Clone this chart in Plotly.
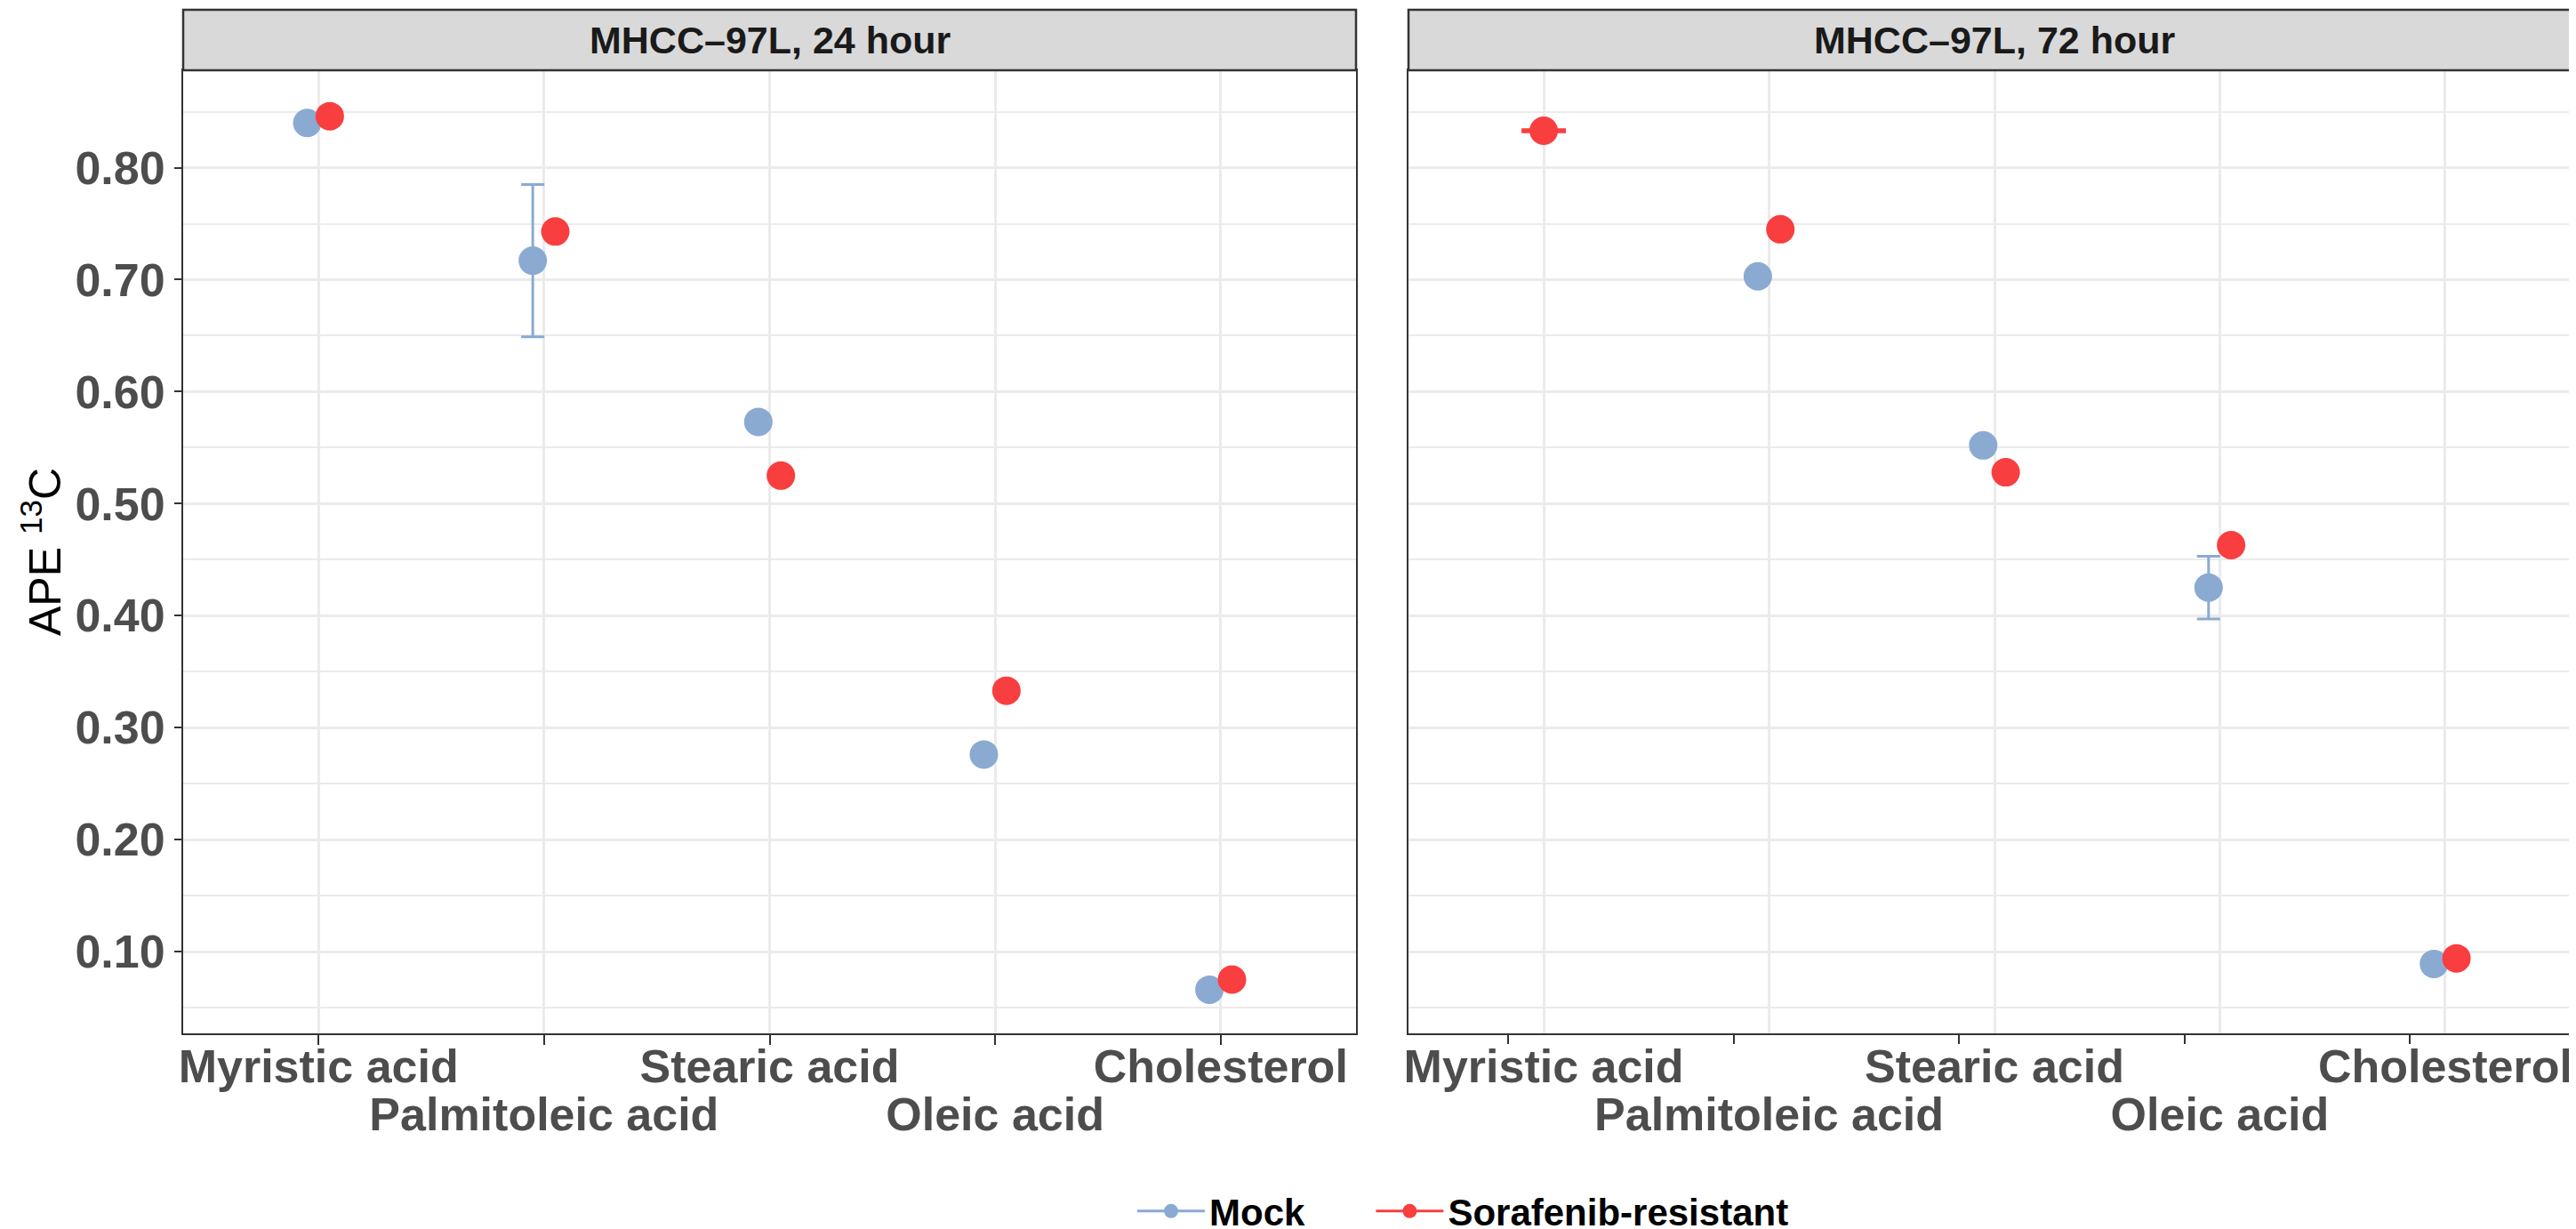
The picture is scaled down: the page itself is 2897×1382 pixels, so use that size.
import plotly.graph_objects as go

# values
categories = ["Myristic acid", "Palmitoleic acid", "Stearic acid", "Oleic acid", "Cholesterol"]
panels = ["MHCC–97L, 24 hour", "MHCC–97L, 72 hour"]
groups = ["Mock", "Sorafenib-resistant"]

mock_24h = [0.840, 0.717, 0.573, 0.276, 0.066]
mock_24h_err = [0.0, 0.068, 0.0, 0.0, 0.0]
sora_24h = [0.846, 0.743, 0.525, 0.333, 0.075]
sora_24h_err = [0.0, 0.0, 0.0, 0.0, 0.0]

mock_72h = [None, 0.703, 0.552, 0.425, 0.089]
mock_72h_err = [None, 0.0, 0.0, 0.028, 0.0]
sora_72h = [0.833, 0.745, 0.528, 0.463, 0.094]
sora_72h_err = [0.001, 0.0, 0.0, 0.0, 0.0]

y_ticks = [0.10, 0.20, 0.30, 0.40, 0.50, 0.60, 0.70, 0.80]
y_minor = [0.05, 0.15, 0.25, 0.35, 0.45, 0.55, 0.65, 0.75, 0.85]

COLORS = {"Mock": "#8AAAD2", "Sorafenib-resistant": "#F93E3F"}
FONT = "Liberation Sans, Arial, Helvetica, sans-serif"
DODGE = 0.05
TICK_SHIFT = 0.157  # ticks of the right panel sit left of the grid in the original

W, H = 2897, 1382
ML, MR, MT, MB = 198, 3, 71, 228
plot_w = W - ML - MR
plot_h = H - MT - MB

fig = go.Figure()

data = {
    (0, "Mock"): (mock_24h, mock_24h_err),
    (0, "Sorafenib-resistant"): (sora_24h, sora_24h_err),
    (1, "Mock"): (mock_72h, mock_72h_err),
    (1, "Sorafenib-resistant"): (sora_72h, sora_72h_err),
}

for p in range(2):
    xa = "x" if p == 0 else "x2"
    ya = "y" if p == 0 else "y2"
    for gi, g in enumerate(groups):
        vals, errs = data[(p, g)]
        other = data[(p, groups[1 - gi])][0]
        for i, v in enumerate(vals):
            if v is None:
                continue
            alone = other[i] is None
            off = 0.0 if alone else (-DODGE if g == "Mock" else DODGE)
            fig.add_trace(go.Scatter(
                x=[i + 1 + off], y=[v], xaxis=xa, yaxis=ya,
                mode="markers",
                marker=dict(color=COLORS[g], size=32, line=dict(width=0)),
                error_y=dict(type="data", array=[errs[i]], color=COLORS[g],
                             thickness=3, width=25 if alone else 13),
                showlegend=False, hoverinfo="y",
            ))

# invisible traces so the overlay axes (second label row, shifted ticks) get drawn
for xa, ya in [("x3", "y"), ("x4", "y2"), ("x5", "y2")]:
    fig.add_trace(go.Scatter(x=[1], y=[0.5], xaxis=xa, yaxis=ya, mode="markers",
                             marker=dict(opacity=0), showlegend=False, hoverinfo="skip"))

# legend entries (trailing no-break spaces widen the gap between the two items)
for k, g in enumerate(groups):
    fig.add_trace(go.Scatter(
        x=[None], y=[None], mode="lines+markers",
        name=g + ("\u00a0" * 6 if k == 0 else ""),
        marker=dict(color=COLORS[g], size=32),
        line=dict(color=COLORS[g], width=3),
    ))

tick_font = dict(family=FONT, size=52, color="#4D4D4D", weight="bold")
cat_vals = list(range(1, len(categories) + 1))
row1_vals = [k + 1 for k in range(len(categories)) if k % 2 == 0]
row1_text = [categories[k] for k in range(len(categories)) if k % 2 == 0]
row2_vals = [k + 1 for k in range(len(categories)) if k % 2 == 1]
row2_text = [categories[k] for k in range(len(categories)) if k % 2 == 1]
xrange = [0.4, len(categories) + 0.6]

d1 = [0, (1517 - ML) / plot_w]
d2 = [(1576 - ML) / plot_w, 1]

common_x = dict(range=xrange, showline=True, mirror=True, linecolor="#333333",
                linewidth=2, zeroline=False, fixedrange=True,
                tickvals=row1_vals, ticktext=row1_text, tickfont=tick_font,
                ticks="outside", ticklen=11, tickwidth=2, ticklabelstandoff=-20,
                showgrid=True, gridcolor="#EBEBEB", gridwidth=3)
overlay_x = dict(range=xrange, showgrid=False, zeroline=False, showline=False,
                 fixedrange=True)
row2_x = dict(tickvals=row2_vals, ticktext=row2_text, tickfont=tick_font,
              ticks="outside", ticklen=11, tickcolor="rgba(0,0,0,0)",
              ticklabelstandoff=35)

fig.update_layout(
    width=W, height=H,
    margin=dict(l=ML, r=MR, t=MT, b=MB, autoexpand=False),
    paper_bgcolor="white", plot_bgcolor="white",
    font=dict(family=FONT),
    showlegend=True,
    legend=dict(orientation="h", x=(1266 - ML) / plot_w, xanchor="left",
                y=-(1354 - (H - MB)) / plot_h, yanchor="middle",
                font=dict(family=FONT, size=42, color="black", weight="bold"),
                itemwidth=76, bgcolor="rgba(0,0,0,0)"),
    xaxis=dict(**common_x, domain=d1, anchor="y", tickcolor="#333333",
               minor=dict(tickvals=row2_vals, ticks="outside", ticklen=11,
                          tickwidth=2, tickcolor="#333333",
                          showgrid=True, gridcolor="#EBEBEB", gridwidth=3)),
    xaxis3=dict(**overlay_x, **row2_x, overlaying="x", anchor="y"),
    xaxis2=dict(**common_x, domain=d2, anchor="y2", tickcolor="rgba(0,0,0,0)",
                minor=dict(tickvals=row2_vals, ticks="",
                           showgrid=True, gridcolor="#EBEBEB", gridwidth=3)),
    xaxis4=dict(**overlay_x, **row2_x, overlaying="x2", anchor="y2"),
    xaxis5=dict(**overlay_x, overlaying="x2", anchor="y2", showticklabels=False,
                tickvals=[c - TICK_SHIFT for c in cat_vals],
                ticks="outside", ticklen=11, tickwidth=2, tickcolor="#333333"),
    yaxis=dict(range=[0.027, 0.887], domain=[0, 1], anchor="x",
               tickvals=y_ticks, tickformat=".2f", tickfont=tick_font,
               ticks="outside", ticklen=8, tickwidth=2, tickcolor="#333333",
               showgrid=True, gridcolor="#EBEBEB", gridwidth=3,
               minor=dict(tickvals=y_minor, showgrid=True, gridcolor="#EBEBEB",
                          gridwidth=1.5, ticks=""),
               showline=True, mirror=True, linecolor="#333333", linewidth=2,
               zeroline=False, fixedrange=True,
               title=dict(text="APE <sup>13</sup>C", standoff=0,
                          font=dict(family=FONT, size=50, color="black"))),
    yaxis2=dict(range=[0.027, 0.887], domain=[0, 1], anchor="x2", matches="y",
                tickvals=y_ticks, showticklabels=False, ticks="",
                showgrid=True, gridcolor="#EBEBEB", gridwidth=3,
                minor=dict(tickvals=y_minor, showgrid=True, gridcolor="#EBEBEB",
                           gridwidth=1.5, ticks=""),
                showline=True, mirror=True, linecolor="#333333", linewidth=2,
                zeroline=False, fixedrange=True),
)

# facet strips
strip_top = 1 + (MT - 3) / plot_h
for p, title in enumerate(panels):
    xd = "x domain" if p == 0 else "x2 domain"
    yd = "y domain" if p == 0 else "y2 domain"
    fig.add_shape(type="rect", xref=xd, yref=yd, x0=0, x1=1, y0=1, y1=strip_top,
                  fillcolor="#D9D9D9", line=dict(color="#333333", width=2.5),
                  layer="above")
    fig.add_annotation(xref=xd, yref=yd, x=0.5, y=(1 + strip_top) / 2,
                       text=title, showarrow=False, xanchor="center", yanchor="middle",
                       font=dict(family=FONT, size=43, color="#1A1A1A", weight="bold"))

fig.write_html("out.html")
